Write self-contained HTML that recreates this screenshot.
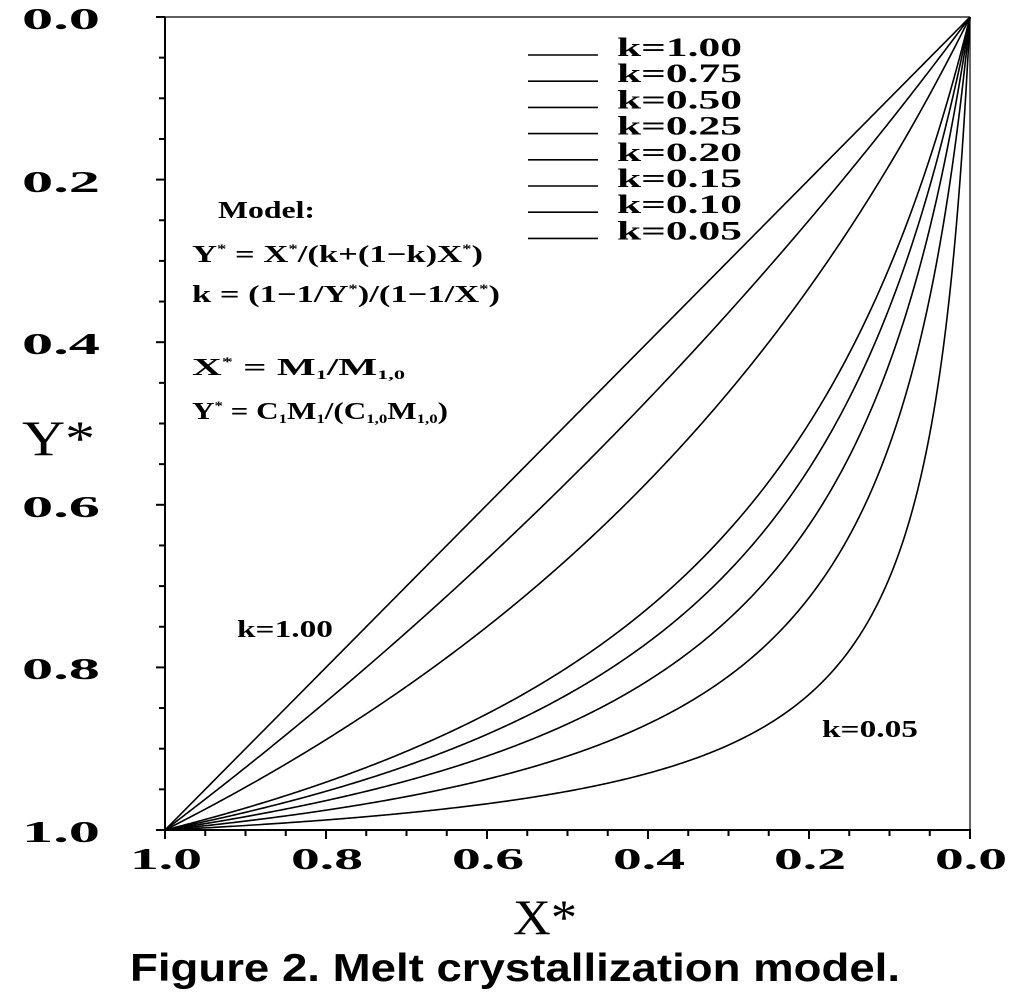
<!DOCTYPE html>
<html><head><style>body{margin:0;background:#fff}svg{display:block}</style></head><body>
<svg width="1030" height="995" xmlns="http://www.w3.org/2000/svg" font-family="Liberation Serif, serif">
<g stroke="#000" fill="none" stroke-width="2">
<line x1="165" y1="17" x2="165" y2="831"/>
<line x1="164" y1="830" x2="971" y2="830"/>
<line x1="165" y1="17" x2="970" y2="17" stroke-width="1.2"/>
<line x1="970" y1="17" x2="970" y2="830" stroke-width="1.2"/>
</g>
<g id="ticks" stroke="#000" stroke-width="2"></g>
<g id="curves" stroke="#000" fill="none" stroke-width="1.6"></g>
<g font-size="31" font-weight="bold">
<text x="22" y="29" textLength="78" lengthAdjust="spacingAndGlyphs">0.0</text>
<text x="22" y="192" textLength="78" lengthAdjust="spacingAndGlyphs">0.2</text>
<text x="22" y="354" textLength="78" lengthAdjust="spacingAndGlyphs">0.4</text>
<text x="22" y="517" textLength="78" lengthAdjust="spacingAndGlyphs">0.6</text>
<text x="22" y="679" textLength="78" lengthAdjust="spacingAndGlyphs">0.8</text>
<text x="22" y="842" textLength="78" lengthAdjust="spacingAndGlyphs">1.0</text>
</g>
<g font-size="31" font-weight="bold">
<text x="130" y="869" textLength="72" lengthAdjust="spacingAndGlyphs">1.0</text>
<text x="291" y="869" textLength="72" lengthAdjust="spacingAndGlyphs">0.8</text>
<text x="452" y="869" textLength="72" lengthAdjust="spacingAndGlyphs">0.6</text>
<text x="613" y="869" textLength="72" lengthAdjust="spacingAndGlyphs">0.4</text>
<text x="774" y="869" textLength="72" lengthAdjust="spacingAndGlyphs">0.2</text>
<text x="935" y="869" textLength="72" lengthAdjust="spacingAndGlyphs">0.0</text>
</g>
<text x="22" y="455" font-size="50" textLength="73" lengthAdjust="spacingAndGlyphs">Y*</text>
<text x="513" y="934" font-size="50" textLength="64" lengthAdjust="spacingAndGlyphs">X*</text>
<text x="130" y="981" font-size="39" font-weight="bold" font-family="Liberation Sans, sans-serif" textLength="770" lengthAdjust="spacingAndGlyphs">Figure 2.  Melt crystallization model.</text>
<g font-size="24" font-weight="bold">
<text x="218" y="218" textLength="97" lengthAdjust="spacingAndGlyphs">Model:</text>
<text x="192" y="262" textLength="291" lengthAdjust="spacingAndGlyphs">Y<tspan font-size="13" dy="-9">*</tspan><tspan dy="9">  =  X</tspan><tspan font-size="13" dy="-9">*</tspan><tspan dy="9">/(k+(1−k)X</tspan><tspan font-size="13" dy="-9">*</tspan><tspan dy="9">)</tspan></text>
<text x="192" y="302" textLength="308" lengthAdjust="spacingAndGlyphs">k  =  (1−1/Y<tspan font-size="13" dy="-9">*</tspan><tspan dy="9">)/(1−1/X</tspan><tspan font-size="13" dy="-9">*</tspan><tspan dy="9">)</tspan></text>
<text x="192" y="375" textLength="213" lengthAdjust="spacingAndGlyphs">X<tspan font-size="13" dy="-9">*</tspan><tspan dy="9">  =  M</tspan><tspan font-size="13" dy="4">1</tspan><tspan dy="-4">/M</tspan><tspan font-size="13" dy="4">1,0</tspan></text>
<text x="192" y="419" textLength="256" lengthAdjust="spacingAndGlyphs">Y<tspan font-size="13" dy="-9">*</tspan><tspan dy="9">  =  C</tspan><tspan font-size="13" dy="4">1</tspan><tspan dy="-4">M</tspan><tspan font-size="13" dy="4">1</tspan><tspan dy="-4">/(C</tspan><tspan font-size="13" dy="4">1,0</tspan><tspan dy="-4">M</tspan><tspan font-size="13" dy="4">1,0</tspan><tspan dy="-4">)</tspan></text>
<text x="237" y="637" textLength="96" lengthAdjust="spacingAndGlyphs">k=1.00</text>
<text x="822" y="737" textLength="96" lengthAdjust="spacingAndGlyphs">k=0.05</text>
</g>
<g id="legend" font-size="26" font-weight="bold"></g>
<script>
const ns="http://www.w3.org/2000/svg";
const px=X=>165+(1-X)*805, py=Y=>17+Y*813;
const ks=[1,0.75,0.5,0.25,0.2,0.15,0.1,0.05];
const cg=document.getElementById('curves');
ks.forEach(k=>{let d="";for(let i=0;i<=400;i++){let X=1-i/400;let Y=X/(k+(1-k)*X);d+=(i?"L":"M")+px(X).toFixed(2)+" "+py(Y).toFixed(2);}
const p=document.createElementNS(ns,"path");p.setAttribute("d",d);cg.appendChild(p);});
const tg=document.getElementById('ticks');
for(let i=0;i<=20;i++){const t=i/20,maj=i%4==0;
let l=document.createElementNS(ns,"line");const x=px(1-t);
l.setAttribute("x1",x);l.setAttribute("x2",x);l.setAttribute("y1",830);l.setAttribute("y2",830+(maj?9:6));tg.appendChild(l);
l=document.createElementNS(ns,"line");const y=py(t);
l.setAttribute("x1",165);l.setAttribute("x2",165-(maj?9:6));l.setAttribute("y1",y);l.setAttribute("y2",y);tg.appendChild(l);}
const lg=document.getElementById('legend');
["1.00","0.75","0.50","0.25","0.20","0.15","0.10","0.05"].forEach((s,i)=>{const y=55+i*26.2;
let l=document.createElementNS(ns,"line");l.setAttribute("x1",528);l.setAttribute("x2",598);l.setAttribute("y1",y);l.setAttribute("y2",y);l.setAttribute("stroke","#000");l.setAttribute("stroke-width","1.6");lg.appendChild(l);
let t=document.createElementNS(ns,"text");t.setAttribute("x",617);t.setAttribute("y",y+1);t.setAttribute("textLength",125);t.setAttribute("lengthAdjust","spacingAndGlyphs");t.textContent="k="+s;lg.appendChild(t);});
</script>
</svg>
</body></html>
